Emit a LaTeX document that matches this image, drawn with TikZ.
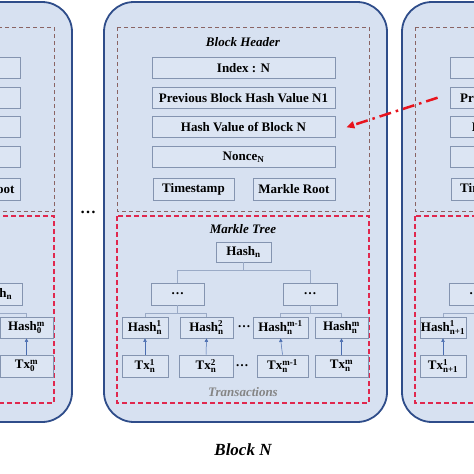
\documentclass[tikz,border=0pt]{standalone}
\usepackage{fontspec}
\setmainfont{Liberation Serif}
\usetikzlibrary{arrows.meta}
\definecolor{blkfill}{HTML}{D7E1F1}
\definecolor{blkdraw}{HTML}{2F4D8A}
\definecolor{boxfill}{HTML}{DCE5F3}
\definecolor{boxdraw}{HTML}{8494B0}
\definecolor{hdrdash}{HTML}{8A6464}
\definecolor{lowdash}{HTML}{E0284E}
\definecolor{treeln}{HTML}{9AAAC6}
\definecolor{uparr}{HTML}{4A6DB0}
\definecolor{dashred}{HTML}{E8141E}
\definecolor{txgrey}{HTML}{858585}
\newcommand{\hsx}[2]{$_{\hbox{\fontsize{9}{9}\selectfont\bfseries #1}}^{\hbox{\fontsize{9}{9}\selectfont\bfseries #2}}$}
\tikzset{
 blockbg/.style={draw=blkdraw, fill=blkfill, line width=1.8pt, rounded corners=30pt, inner sep=0pt},
 hbox/.style={draw=boxdraw, fill=boxfill, line width=0.8pt, inner sep=0pt, minimum height=21pt, font=\fontsize{13}{15}\selectfont\bfseries},
 hdrframe/.style={draw=hdrdash, line width=0.9pt, dash pattern=on 4pt off 3pt},
 lowframe/.style={draw=lowdash, line width=1.2pt, dash pattern=on 5pt off 3pt},
 titletext/.style={font=\fontsize{13}{15}\selectfont\bfseries\itshape},
 treeline/.style={draw=treeln, line width=0.7pt},
 uparrow/.style={draw=uparr, line width=0.5pt, -{Triangle[length=3.5pt,width=3.5pt]}},
 plaintext/.style={font=\fontsize{13}{15}\selectfont\bfseries, inner sep=0pt},
 transtext/.style={font=\fontsize{13}{15}\selectfont\bfseries\itshape, text=txgrey},
}
% #1 shift, #2 prefix, #3 index, #4 prev, #5 hash value, #6 nonce sub, #7 leaf sub, #8 mid2 text
\newcommand{\drawblk}[8]{%
\begin{scope}[xshift=#1pt]
\node[blockbg, minimum width=283pt, minimum height=420pt] (#2blk) at (245.5,212) {};
\draw[hdrframe] (117,27) rectangle (369,211);
\draw[lowframe] (117,216) rectangle (369,403);
\node[titletext] (#2ht) at (243,42) {Block Header};
\node[hbox, minimum width=183pt] (#2idx) at (243.5,68) {#3};
\node[hbox, minimum width=183pt] (#2prev) at (243.5,97.7) {#4};
\node[hbox, minimum width=183pt] (#2hv) at (243.5,127.3) {#5};
\node[hbox, minimum width=183pt] (#2nonce) at (243.5,157) {Nonce\textsubscript{#6}};
\node[hbox, minimum width=81pt, minimum height=22pt] (#2ts) at (193.5,189) {Timestamp};
\node[hbox, minimum width=82pt, minimum height=22pt] (#2mr) at (294,189) {Markle Root};
\node[titletext] (#2mt) at (243,229) {Markle Tree};
\node[hbox, minimum width=55pt, minimum height=20pt] (#2root) at (243.5,252) {Hash\textsubscript{n}};
\node[hbox, minimum width=53pt, minimum height=22pt] (#2mida) at (177.5,294) {\dots};
\node[hbox, minimum width=54pt, minimum height=22pt] (#2midb) at (310,294) {#8};
\node[hbox, minimum width=46pt] (#2ha) at (145,327.5) {Hash\hsx{#7}{1}};
\node[hbox, minimum width=53pt] (#2hb) at (206.5,327.5) {Hash\hsx{#7}{2}};
\node[plaintext] (#2hd) at (244,327) {\dots};
\node[hbox, minimum width=55pt] (#2hc) at (280.5,327.5) {Hash\hsx{#7}{m-1}};
\node[hbox, minimum width=53pt] (#2hm) at (341.5,327.5) {Hash\hsx{#7}{m}};
\node[hbox, minimum width=46pt, minimum height=22pt] (#2ta) at (145,366) {Tx\hsx{#7}{1}};
\node[hbox, minimum width=54pt, minimum height=22pt] (#2tb) at (206,366) {Tx\hsx{#7}{2}};
\node[plaintext] (#2td) at (242,366) {\dots};
\node[hbox, minimum width=51pt, minimum height=22pt] (#2tc) at (282.5,366) {Tx\hsx{#7}{m-1}};
\node[hbox, minimum width=53pt, minimum height=22pt] (#2tm) at (341.5,366) {Tx\hsx{#7}{m}};
\node[transtext] (#2tr) at (243,392) {Transactions};
\draw[treeline] (#2root.south) -- ++(0,8) -| (#2mida.north);
\draw[treeline] (#2root.south) ++(0,8) -| (#2midb.north);
\draw[treeline] (#2mida.south) -- ++(0,8) -| (#2ha.north);
\draw[treeline] (#2mida.south) ++(0,8) -| (#2hb.north);
\draw[treeline] (#2midb.south) -- ++(0,8) -| (#2hc.north);
\draw[treeline] (#2midb.south) ++(0,8) -| (#2hm.north);
\draw[uparrow] (#2ta.north) -- (#2ha.south);
\draw[uparrow] (#2tb.north) -- (#2hb.south);
\draw[uparrow] (#2tc.north) -- (#2hc.south);
\draw[uparrow] (#2tm.north) -- (#2hm.south);
\end{scope}}

\begin{document}
\begin{tikzpicture}[x=1pt, y=-1pt]
\useasboundingbox (0,0) rectangle (474,474);
\fill[white] (0,0) rectangle (474,474);
\clip (0,0) rectangle (474,474);
\drawblk{-315}{L}{Index : 0}{Previous Hash Value}{Hash Value of Block 0}{0}{0}{Hash\textsubscript{n}}
\drawblk{0}{C}{Index : N}{Previous Block Hash Value N1}{Hash Value of Block N}{N}{n}{\dots}
\drawblk{298}{R}{Index : N+1}{Previous Block Hash Value N}{Hash Value of Block N+1}{N+1}{n+1}{\dots}
\node[font=\fontsize{16}{18}\selectfont\bfseries] (gapdots) at (88,212) {\dots};
\node[font=\fontsize{17}{20}\selectfont\bfseries\itshape] (cap) at (243,450) {Block N};
\draw[draw=dashred, line width=2.5pt, dash pattern=on 12pt off 5pt on 2.5pt off 5pt, -{Triangle[length=8pt,width=7pt]}] ([xshift=-12pt]Rprev.west) -- ([xshift=11pt]Chv.east);
\end{tikzpicture}
\end{document}
